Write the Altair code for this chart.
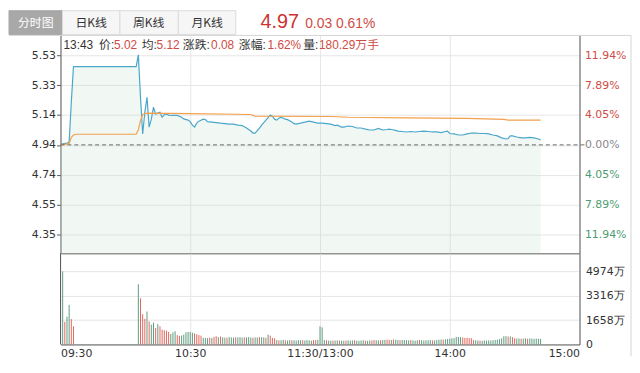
import altair as alt
import pandas as pd

# ---------------- data ----------------
PREV_CLOSE = 4.94

price_min = [0, 1, 2, 3, 4, 5, 6, 35, 36, 37, 38, 39, 40, 41, 42, 43, 44, 45, 46, 47,
             48, 49, 50, 52, 54, 56, 57, 59, 60, 61, 62, 63, 64, 66, 67, 68, 70, 72, 74, 76,
             78, 80, 82, 84, 86, 88, 89, 90, 92, 93, 95, 97, 98, 99, 100, 101, 102, 104, 105, 107,
             108, 109, 111, 113, 115, 117, 119, 121, 123, 125, 127, 128, 130, 131, 133, 135, 137, 139, 141, 143,
             145, 147, 149, 151, 152, 153, 155, 156, 158, 160, 162, 164, 166, 168, 170, 172, 174, 176, 178, 179,
             180, 182, 184, 186, 188, 190, 192, 194, 196, 198, 200, 202, 204, 206, 207, 208, 209, 211, 213, 215,
             217, 219, 221, 222]
price_val = [4.940, 4.947, 4.950, 4.950, 4.960, 5.220, 5.455, 5.455, 5.533, 5.253, 5.012, 5.155, 5.253, 5.057, 5.109, 5.188, 5.142, 5.149, 5.155, 5.122,
             5.139, 5.144, 5.136, 5.134, 5.134, 5.122, 5.111, 5.103, 5.093, 5.070, 5.057, 5.083, 5.096, 5.109, 5.106, 5.093, 5.090, 5.087, 5.083, 5.080,
             5.077, 5.077, 5.070, 5.067, 5.051, 5.031, 5.018, 5.018, 5.051, 5.070, 5.103, 5.136, 5.129, 5.109, 5.103, 5.116, 5.122, 5.109, 5.106, 5.090,
             5.080, 5.077, 5.083, 5.090, 5.096, 5.090, 5.083, 5.083, 5.080, 5.077, 5.067, 5.070, 5.057, 5.057, 5.064, 5.061, 5.051, 5.051, 5.044, 5.038,
             5.038, 5.048, 5.038, 5.041, 5.044, 5.041, 5.035, 5.031, 5.028, 5.025, 5.028, 5.025, 5.028, 5.031, 5.028, 5.025, 5.025, 5.021, 5.028, 5.031,
             5.015, 5.012, 5.005, 5.005, 5.012, 5.018, 5.018, 5.015, 5.015, 5.012, 5.005, 4.999, 4.986, 4.979, 4.982, 4.999, 4.999, 4.992, 4.986, 4.986,
             4.989, 4.986, 4.979, 4.973]

avg_min = [0, 4, 5, 6, 7, 35, 36, 37, 38, 40, 60, 88, 90, 125, 133, 160, 188, 205, 207, 222]
avg_val = [4.940, 4.948, 4.990, 5.005, 5.010, 5.010, 5.040, 5.100, 5.140, 5.149, 5.146, 5.140, 5.129, 5.127, 5.122, 5.118, 5.114, 5.108, 5.103, 5.103]

# volume per minute (万), starting at minute 0
volume = [
    0, 4990, 1550, 1900, 2700, 1730, 1240, 12, 12, 12,
    12, 12, 12, 12, 12, 12, 12, 12, 12, 12,
    12, 12, 12, 12, 12, 12, 12, 12, 12, 12,
    12, 12, 12, 12, 12, 12, 4110, 3150, 2070, 1750,
    2250, 1570, 1350, 1500, 1120, 1390, 1240, 1010, 970, 940,
    850, 720, 830, 900, 640, 585, 610, 675, 830, 850,
    850, 800, 760, 700, 640, 600, 450, 440, 430, 460,
    440, 520, 560, 500, 540, 480, 470, 460, 500, 480,
    470, 490, 480, 500, 470, 480, 490, 500, 470, 460,
    480, 470, 500, 490, 480, 450, 670, 600, 450, 420,
    300, 280, 290, 310, 280, 270, 300, 290, 280, 260,
    300, 280, 290, 270, 300, 280, 260, 290, 300, 320,
    1240, 1170, 300, 280, 260, 250, 270, 260, 280, 270,
    260, 250, 270, 280, 260, 270, 290, 260, 250, 270,
    280, 260, 250, 270, 280, 300, 290, 270, 280, 300,
    310, 330, 320, 300, 340, 320, 300, 290, 310, 300,
    290, 280, 300, 270, 260, 280, 300, 290, 270, 280,
    290, 300, 280, 270, 300, 320, 340, 330, 350, 370,
    380, 420, 440, 520, 510, 500, 470, 450, 460, 440,
    430, 300, 280, 270, 260, 250, 270, 260, 280, 270,
    290, 310, 330, 360, 420, 560, 570, 540, 550, 500,
    420, 400, 410, 390, 400, 420, 390, 410, 400, 380,
    400, 390, 380,
]
# r = up minute (red), g = down minute (green)
vol_dir = (
    "ggrggrrggg" "gggggggggg" "gggggggggg" "gggggggrrr"
    "grggrgrrrr" "rgggrrgggg" "ggrrrrgggr" "grrgrggrgg"
    "grgggrgggr" "ggrggrgrrr" "grggrggrgg" "ggrggggrrg"
    "gggrggrggr" "ggrgggrggg" "grggrrggrg" "grrgrggrgg"
    "ggrgggrggg" "ggrggggrgg" "ggggggrrrr" "rrggrggggg"
    "gggggggrgr" "rggrggrggg" "ggg"
)

time_ticks = [0, 60, 120, 180, 240]
time_labels = ["09:30", "10:30", "11:30/13:00", "14:00", "15:00"]
price_ticks = [4.35, 4.5467, 4.7433, 4.94, 5.1367, 5.3333, 5.53]
vol_ticks = [0, 1658, 3316, 4974]

tab_labels = ["分时图", "日K线", "周K线", "月K线"]
last_price = "4.97"
last_change = "0.03 0.61%"
header_parts = [("13:43", "k"), ("价:", "k"), ("5.02", "r"), ("均:", "k"), ("5.12", "r"),
                ("涨跌:", "k"), ("0.08", "r"), ("涨幅:", "k"), ("1.62%", "r"),
                ("量:", "k"), ("180.29万手", "r")]

# ---------------- style / layout ----------------
W = 524
H_PRICE = 220
H_VOL = 92
P_DOMAIN = [4.2262, 5.6604]
V_DOMAIN = [0, 6225]

RED = "#cc3333"
RED_TXT = "#cf4b45"
GREEN_TXT = "#4e9b73"
BLUE = "#4aa7cb"
ORANGE = "#f4a04c"
GRID = "#e6e6e6"
AXIS = "#5a5a5a"
TXT = "#333333"
RED_BAR = "#e2665d"
GREEN_BAR = "#5e9c7f"
CJK = "Noto Sans CJK SC"
MIX = "Liberation Sans, Noto Sans CJK SC"
LAT = "DejaVu Sans"

header_x = [3, 39, 54, 82, 97, 123.5, 152, 180, 209, 245, 261]
tab_x = [(-52, 2), (2, 60), (60, 119), (119, 177)]
tab_text_x = [-25, 31, 89, 148]

one = alt.Data(values=[{}])

xs = alt.Scale(domain=[0, 240], nice=False, zero=False)
ys = alt.Scale(domain=P_DOMAIN, nice=False, zero=False)
vs = alt.Scale(domain=V_DOMAIN, nice=False, zero=False)

x_expr = "'" + time_labels[-1] + "'"
for v, l in reversed(list(zip(time_ticks[:-1], time_labels[:-1]))):
    x_expr = f"datum.value == {v} ? '{l}' : {x_expr}"

price_df = pd.DataFrame({"m": price_min, "p": price_val})
avg_df = pd.DataFrame({"m": avg_min, "p": avg_val})
vol_df = pd.DataFrame({"m": list(range(len(volume))), "v": volume, "d": list(vol_dir)})

x_price = alt.X("m:Q", scale=xs, axis=alt.Axis(values=time_ticks, labels=False, ticks=False,
                                                  domain=True, domainColor=AXIS, grid=True,
                                                  gridColor=GRID, title=None))
y_price = alt.Y("p:Q", scale=ys, axis=alt.Axis(values=price_ticks, format=".2f", grid=True,
                                                  gridColor=GRID, tickSize=4, tickColor=AXIS,
                                                  labelPadding=1, domainColor=AXIS, title=None,
                                                  orient="left", labelFont=LAT, labelFontSize=11,
                                                  labelColor=TXT))

area = alt.Chart(price_df).mark_area(color="#bfdcca", opacity=0.22).encode(
    x=x_price, y=y_price, y2=alt.datum(P_DOMAIN[0]))
pline = alt.Chart(price_df).mark_line(color=BLUE, strokeWidth=1.2).encode(x=x_price, y=y_price)
aline = alt.Chart(avg_df).mark_line(color=ORANGE, strokeWidth=1.2).encode(x=x_price, y=y_price)
inner = alt.layer(area, pline, aline)

pct_expr = f"format(abs(round(datum.value*100)/100 - {PREV_CLOSE})/{PREV_CLOSE}*100, '.2f') + '%'"
right_axis = alt.Axis(values=price_ticks, orient="right", grid=False, ticks=False,
                      labelPadding=5, domainColor=AXIS, title=None, labelExpr=pct_expr,
                      labelFont=LAT, labelFontSize=11,
                      labelColor={"condition": [{"test": f"datum.value > {PREV_CLOSE + 0.01}", "value": RED_TXT},
                                                {"test": f"datum.value < {PREV_CLOSE - 0.01}", "value": GREEN_TXT}],
                                  "value": "#888888"})
zero_rule = alt.Chart(one).mark_rule(color="#666666", strokeDash=[4, 3], strokeWidth=1, clip=False).encode(
    y=alt.Y(datum=PREV_CLOSE, scale=ys, axis=right_axis),
    x=alt.value(0), x2=alt.value(W + 8))

# decorations: frame, tabs, header
deco = []
deco.append(alt.Chart(one).mark_rule(color="#d4d4d4", clip=False).encode(
    x=alt.value(-52), x2=alt.value(576), y=alt.value(0)))
deco.append(alt.Chart(one).mark_rule(color="#d4d4d4", clip=False).encode(
    x=alt.value(576), y=alt.value(0), y2=alt.value(324)))
for i, lab in enumerate(tab_labels):
    x0, x1 = tab_x[i]
    active = i == 0
    deco.append(alt.Chart(one).mark_rect(
        fill="#a8a8a8" if active else "#f6f6f6",
        stroke="#a8a8a8" if active else "#dcdcdc", strokeWidth=1, clip=False).encode(
        x=alt.value(x0), x2=alt.value(x1), y=alt.value(-25), y2=alt.value(-1)))
    deco.append(alt.Chart(one).mark_text(
        text=lab, font=CJK, fontSize=12, color="#ffffff" if active else TXT,
        align="center", baseline="middle").encode(x=alt.value(tab_text_x[i]), y=alt.value(-13)))
deco.append(alt.Chart(one).mark_text(text=last_price, font="Liberation Sans", fontSize=20, color=RED,
                                     align="left", baseline="middle").encode(
    x=alt.value(202), y=alt.value(-14)))
deco.append(alt.Chart(one).mark_text(text=last_change, font="Liberation Sans", fontSize=14, color=RED_TXT,
                                     align="left", baseline="middle").encode(
    x=alt.value(247), y=alt.value(-12)))
for (t, c), hx in zip(header_parts, header_x):
    deco.append(alt.Chart(one).mark_text(text=t, font=MIX, fontSize=12,
                                         color=RED_TXT if c == "r" else TXT,
                                         align="left", baseline="middle").encode(
        x=alt.value(hx), y=alt.value(10)))

price_panel = alt.layer(inner, zero_rule, *deco).resolve_scale(y="independent").properties(
    width=W, height=H_PRICE)

# volume panel
x_vol = alt.X("m:Q", scale=xs, axis=alt.Axis(values=time_ticks, labelExpr=x_expr, labelFlush=True,
                                                grid=True, gridColor=GRID, ticks=False,
                                                domainColor=AXIS, labelPadding=3, title=None,
                                                labelFont=LAT, labelFontSize=11, labelColor=TXT))
bars = alt.Chart(vol_df).mark_rule(strokeWidth=1).encode(
    x=x_vol,
    y=alt.Y("v:Q", scale=vs, axis=alt.Axis(orient="right", values=vol_ticks, grid=True,
                                            gridColor=GRID, ticks=False, labelPadding=6,
                                            domainColor=AXIS, title=None,
                                            labelExpr="datum.value == 0 ? '0' : datum.value + '万'",
                                            labelFont=LAT, labelFontSize=11, labelColor=TXT)),
    y2=alt.datum(0),
    color=alt.Color("d:N", scale=alt.Scale(domain=["r", "g"], range=[RED_BAR, GREEN_BAR]), legend=None))
left_edge = alt.Chart(one).mark_rule(color=AXIS).encode(x=alt.X(datum=0, scale=xs))
vol_panel = alt.layer(bars, left_edge).properties(width=W, height=H_VOL)

chart = alt.vconcat(price_panel, vol_panel, spacing=0, bounds="flush").properties(
    padding=0).configure_view(stroke=None)

chart.save("out.html", embed_options={"renderer": "svg", "actions": False})
